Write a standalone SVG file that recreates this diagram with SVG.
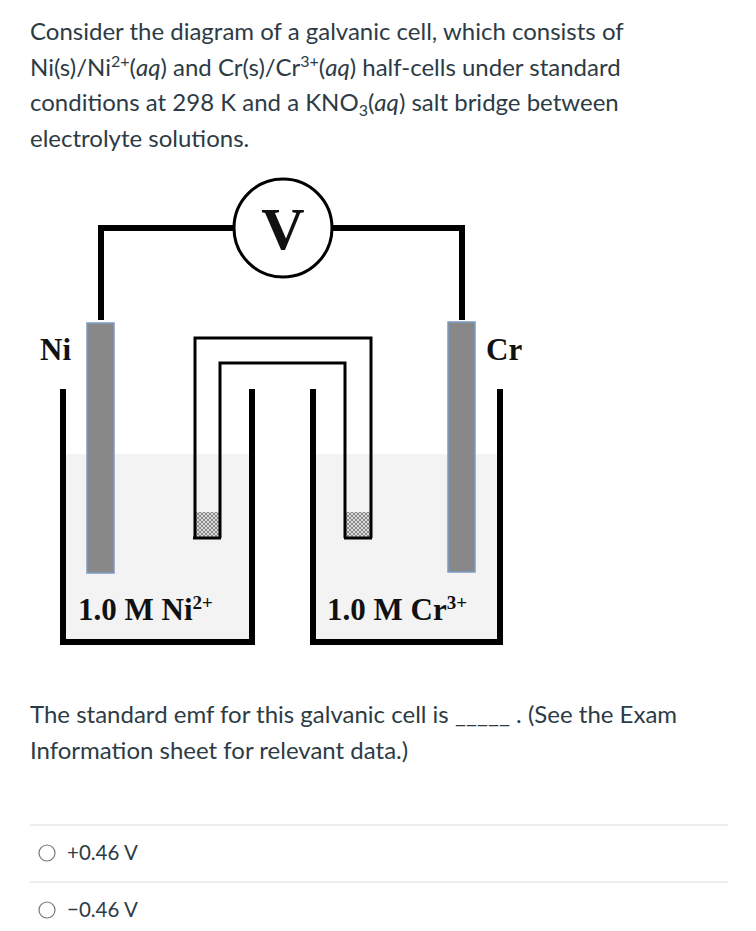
<svg xmlns="http://www.w3.org/2000/svg" width="756" height="931" viewBox="0 0 756 931">
<defs>
<pattern id="hatch" width="4" height="4" patternUnits="userSpaceOnUse">
<rect width="4" height="4" fill="#d8d8d8"/>
<path d="M0 0L4 4M4 0L0 4" stroke="#777" stroke-width="0.8"/>
</pattern>
</defs>
<style>
.q{font-family:Lato,"Open Sans","Liberation Sans",sans-serif;font-size:24px;fill:#2d3b45}
.o{font-family:Lato,"Open Sans","Liberation Sans",sans-serif;font-size:20.5px;fill:#2d3b45}
.t{font-family:"Liberation Serif",serif;font-weight:bold;fill:#111}
.w{fill:none;stroke:#000;stroke-width:6}
.b{fill:none;stroke:#000;stroke-width:3}
.el{fill:#888;stroke:#7c9cc4;stroke-width:1.5}
</style>
<rect width="756" height="931" fill="#fff"/>
<g id="question">
<text class="q" x="30" y="40">Consider the diagram of a galvanic cell, which consists of</text>
<text class="q" x="30" y="76">Ni(s)/Ni<tspan font-size="16" dy="-9">2+</tspan><tspan dy="9">(</tspan><tspan font-style="italic">aq</tspan>) and Cr(s)/Cr<tspan font-size="16" dy="-9">3+</tspan><tspan dy="9">(</tspan><tspan font-style="italic">aq</tspan>) half-cells under standard</text>
<text class="q" x="30" y="111">conditions at 298 K and a KNO<tspan font-size="16" dy="5">3</tspan><tspan dy="-5">(</tspan><tspan font-style="italic">aq</tspan>) salt bridge between</text>
<text class="q" x="30" y="147">electrolyte solutions.</text>
</g>
<g id="solutions">
<rect x="66" y="454" width="183" height="185" fill="#f3f3f3"/>
<rect x="316" y="454" width="181" height="185" fill="#f3f3f3"/>
</g>
<g id="connectors">
<polyline class="w" points="101,320 101,228 234,228"/>
<polyline class="w" points="332,228 462,228 462,320"/>
</g>
<g id="voltmeter">
<circle cx="283" cy="228" r="49" fill="#fff" stroke="#000" stroke-width="3"/>
<text class="t" x="283" y="249" font-size="60" text-anchor="middle">V</text>
</g>
<g id="beaker-left">
<polyline class="w" points="63,389 63,642 252,642 252,389"/>
</g>
<g id="beaker-right">
<polyline class="w" points="313,389 313,642 500,642 500,389"/>
</g>
<g id="salt-bridge">
<rect x="195" y="512" width="24" height="26" fill="url(#hatch)"/>
<rect x="346" y="512" width="24" height="26" fill="url(#hatch)"/>
<polyline class="b" points="195,538 195,338 371,338 371,538"/>
<polyline class="b" points="220,538 220,363 345,363 345,538"/>
<line class="b" x1="193" y1="538" x2="221" y2="538"/>
<line class="b" x1="344" y1="538" x2="372" y2="538"/>
</g>
<g id="ni-electrode">
<rect class="el" x="87" y="323" width="27" height="250"/>
<text class="t" x="40" y="360" font-size="31">Ni</text>
</g>
<g id="cr-electrode">
<rect class="el" x="448" y="322" width="27" height="250"/>
<text class="t" x="486" y="360" font-size="31">Cr</text>
</g>
<g id="labels">
<text class="t" x="78" y="620" font-size="31">1.0 M Ni<tspan font-size="19" dy="-11">2+</tspan></text>
<text class="t" x="327" y="620" font-size="31">1.0 M Cr<tspan font-size="19" dy="-11">3+</tspan></text>
</g>
<g id="prompt">
<text class="q" x="30" y="723">The standard emf for this galvanic cell is _____ .  (See the Exam</text>
<text class="q" x="30" y="759">Information sheet for relevant data.)</text>
</g>
<g id="options">
<line x1="30" y1="825" x2="728" y2="825" stroke="#dcdcdc" stroke-width="1"/>
<circle cx="47" cy="853" r="8" fill="#fff" stroke="#777" stroke-width="1.2"/>
<text class="o" x="67" y="860">+0.46 V</text>
<line x1="30" y1="882" x2="728" y2="882" stroke="#dcdcdc" stroke-width="1"/>
<circle cx="47" cy="910" r="8" fill="#fff" stroke="#777" stroke-width="1.2"/>
<text class="o" x="67" y="917">−0.46 V</text>
</g>
</svg>
